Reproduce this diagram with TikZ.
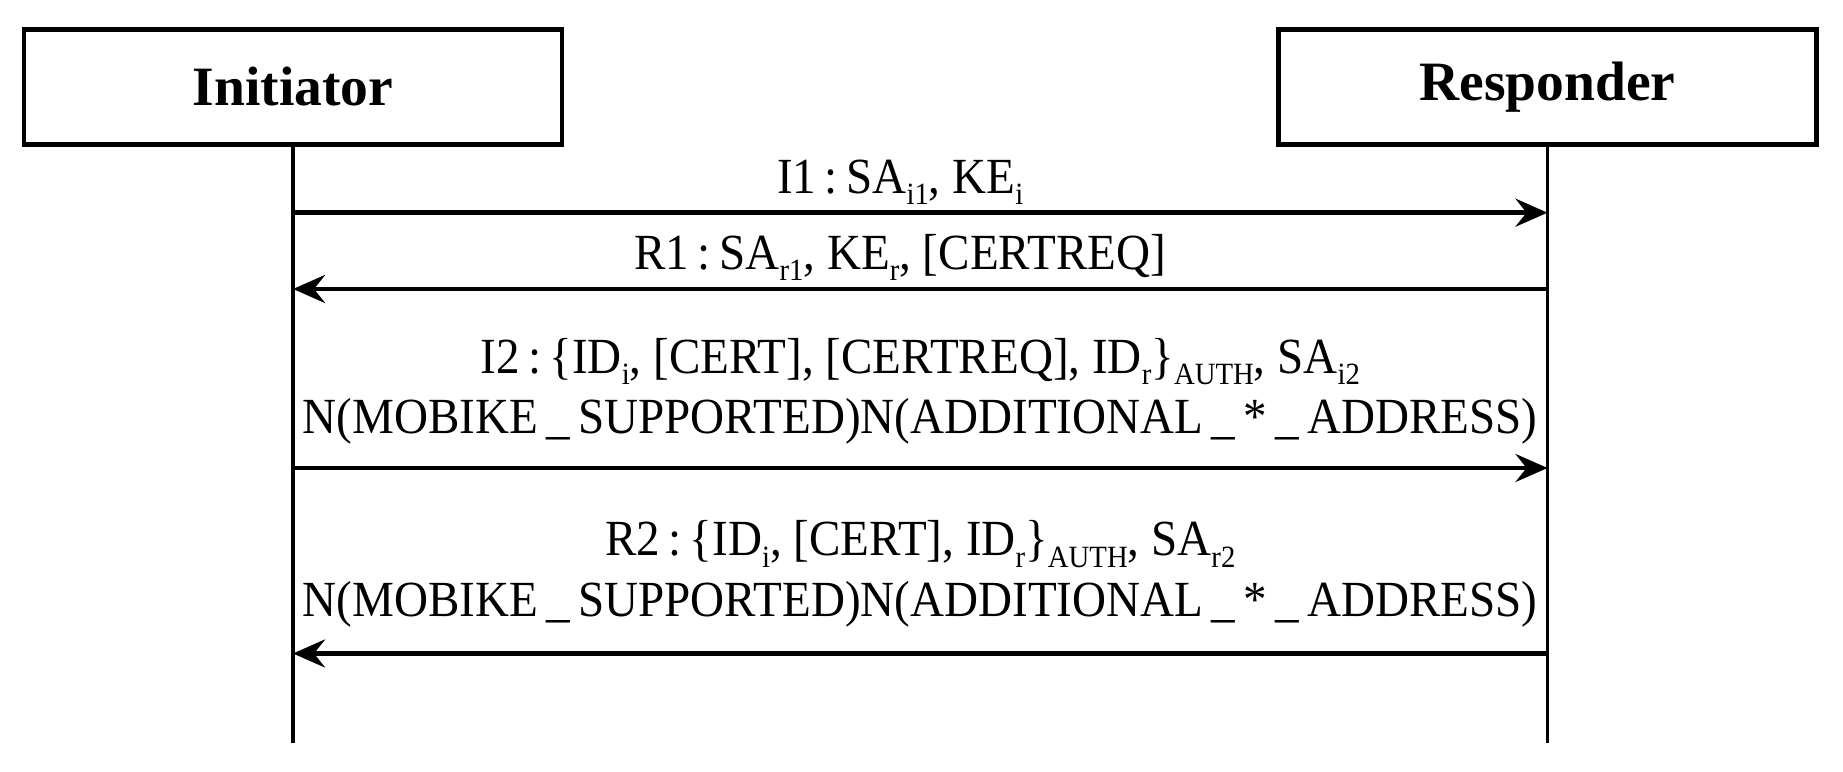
\documentclass[tikz,border=0pt]{standalone}
\usepackage{fontspec}
\setmainfont{Liberation Serif}
\newfontfamily\msgfont[FakeStretch=0.93]{Liberation Serif}
\usetikzlibrary{arrows.meta,positioning}
\newcommand{\sbs}[1]{\raisebox{-3.2pt}{\fontsize{8.8}{8.8}\selectfont #1}}

\begin{document}
\begin{tikzpicture}[
    party/.style={draw, line width=1.2pt, minimum width=5.38cm, minimum height=1.15cm,
      font=\fontsize{15.8}{18}\selectfont\bfseries},
    life/.style={line width=1.05pt},
    msg/.style={line width=1.3pt, -{Stealth[length=3.2mm,width=2.8mm,inset=1.1mm]}},
    lbl/.style={inner sep=0pt, align=center, font=\msgfont\fontsize{14.4}{17.2}\selectfont}]
  \useasboundingbox (0,0) rectangle (18.43,-7.72);
  \begin{scope}
    \node[party] (ini) at (2.93,-0.87) {Initiator};
    \node[party] (res) at (15.475,-0.87) {Responder};
  \end{scope}
  % lifelines
  \coordinate (ini-end) at (ini.south |- 0,-7.43);
  \coordinate (res-end) at (res.south |- 0,-7.43);
  \draw[life] (ini.south) -- (ini-end);
  \draw[life] (res.south) -- (res-end);
  \foreach \name/\y in {i1/-2.127, r1/-2.89, i2/-4.68, r2/-6.535} {
    \coordinate (\name-i) at (ini.south |- 0,\y);
    \coordinate (\name-r) at (res.south |- 0,\y);
  }
  % messages
  \draw[msg] (i1-i) -- node[lbl, above=0.6mm, xshift=-2mm]
    {I1\,:\,SA\sbs{i1}, KE\sbs{i}} (i1-r);
  \draw[msg] (r1-r) -- node[lbl, above=0.6mm, xshift=-2mm]
    {R1\,:\,SA\sbs{r1}, KE\sbs{r}, [CERTREQ]} (r1-i);
  \draw[msg] (i2-i) -- node[lbl, above=2.1mm]
    {I2\,:\,\{ID\sbs{i}, [CERT], [CERTREQ], ID\sbs{r}\}\sbs{AUTH}, SA\sbs{i2}\\
     N(MOBIKE\,\_\,SUPPORTED)N(ADDITIONAL\,\_\,*\,\_\,ADDRESS)} (i2-r);
  \draw[msg] (r2-r) -- node[lbl, above=2.4mm]
    {R2\,:\,\{ID\sbs{i}, [CERT], ID\sbs{r}\}\sbs{AUTH}, SA\sbs{r2}\\
     N(MOBIKE\,\_\,SUPPORTED)N(ADDITIONAL\,\_\,*\,\_\,ADDRESS)} (r2-i);
\end{tikzpicture}
\end{document}
